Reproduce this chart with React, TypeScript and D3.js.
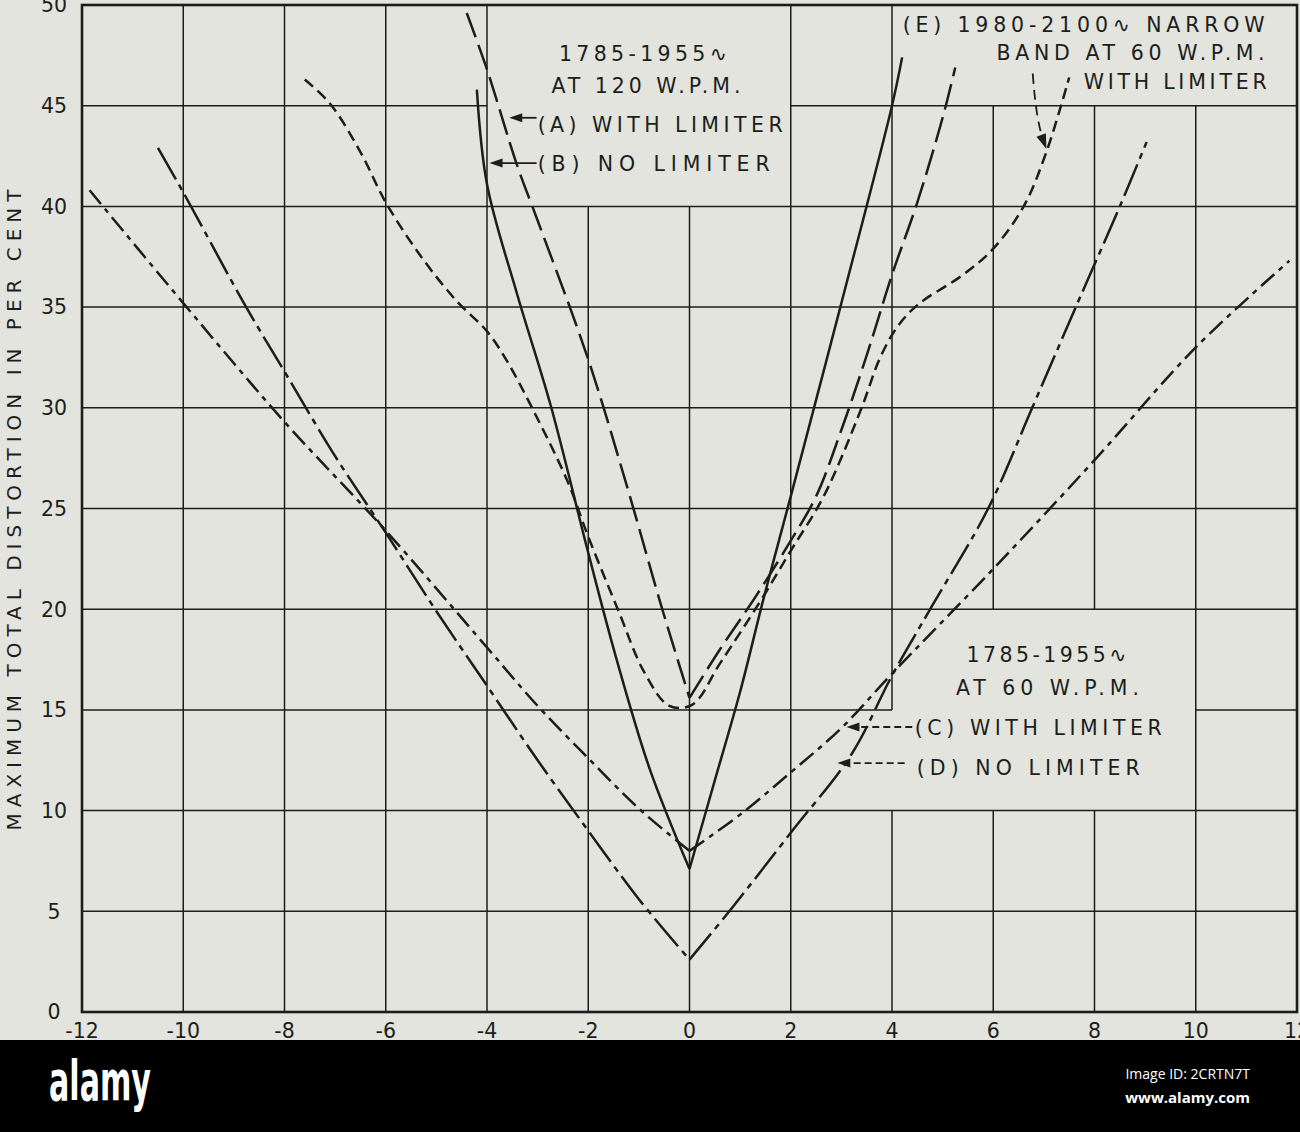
import React from 'react';
import * as d3 from 'd3';

type P = [number, number];

// ---------- data ----------
const xTicks = [-12, -10, -8, -6, -4, -2, 0, 2, 4, 6, 8, 10, 12];
const yTicks = [0, 5, 10, 15, 20, 25, 30, 35, 40, 45, 50];
const yTitle = 'MAXIMUM TOTAL DISTORTION IN PER CENT';

// (A) 1785-1955~ at 120 w.p.m., with limiter
const curveA_left: P[] = [[-4.4, 49.6], [-4, 46.8], [-3.4, 42], [-3, 39.3], [-2, 32.4], [-1.2, 25.8], [-0.55, 20.1], [0, 15.6]];
const curveA_right: P[] = [[0, 15.6], [0.6, 18], [1.3, 20.6], [2, 23.4], [2.5, 25.6], [3, 28.9], [3.5, 32.6], [4, 36.6], [4.5, 40.2], [5, 44.4], [5.25, 46.9]];
// (B) 1785-1955~ at 120 w.p.m., no limiter
const curveB_left: P[] = [[-4.2, 45.8], [-4, 41.1], [-3.4, 35.6], [-2.74, 30.1], [-2, 22.8], [-1.45, 17.6], [-0.79, 12.1], [0, 7.1]];
const curveB_right: P[] = [[0, 7.1], [0.5, 11.5], [1, 15.9], [1.45, 20.4], [2, 25.6], [3, 35.2], [4, 45], [4.2, 47.4]];
// (C) 1785-1955~ at 60 w.p.m., with limiter
const curveC_left: P[] = [[-11.85, 40.8], [-10, 35.2], [-8, 29.3], [-6, 23.9], [-4, 18.1], [-3, 15.2], [-2, 12.6], [-1, 10.1], [0, 8]];
const curveC_right: P[] = [[0, 8], [1, 9.8], [2, 11.9], [3, 14.1], [4, 16.8], [6, 22], [8, 27.4], [10, 33], [11.85, 37.3]];
// (D) 1785-1955~ at 60 w.p.m., no limiter
const curveD_left: P[] = [[-10.5, 42.9], [-10, 40.7], [-8.78, 35.1], [-8, 31.8], [-7, 27.6], [-6, 23.8], [-5, 19.9], [-4, 16.2], [-3, 12.5], [-2, 9], [-1, 5.6], [0, 2.6]];
const curveD_right: P[] = [[0, 2.6], [0.85, 5.2], [2, 8.9], [3.2, 12.8], [4, 16.7], [4.8, 20.2], [5.9, 25], [6.77, 30], [7.63, 35], [8.5, 40], [9.03, 43.2]];
// (E) 1980-2100~ narrow band at 60 w.p.m., with limiter
const curveE: P[] = [[-7.6, 46.3], [-7.1, 45.1], [-6.5, 42.7], [-6, 40.2], [-5.3, 37.5], [-4.6, 35.3], [-4, 33.8], [-3.6, 32.3], [-3.05, 29.7], [-2.4, 26.3], [-2, 23.6], [-1.4, 19.9], [-0.9, 16.9], [-0.4, 15.2], [0.05, 15.25], [0.6, 17.3], [1.4, 20.4], [2, 22.9], [2.65, 25.6], [3.4, 30], [3.75, 32.4], [4.1, 34], [4.5, 35.1], [5.4, 36.6], [6, 37.9], [6.6, 40], [7.05, 42.7], [7.5, 46.4]];

// label boxes where the grid is left blank (data units)
const gridBoxes = [
  { x0: -4, x1: 2, y0: 40, y1: 50 },
  { x0: 4, x1: 12, y0: 45, y1: 50 },
  { x0: 4, x1: 10, y0: 10, y1: 20 },
];

const INK = '#1d1d1b';
const BG = '#e2e4dd';
const FONT = "'DejaVu Sans', 'Noto Sans', sans-serif";

function arrowHead(tx: number, ty: number, fx: number, fy: number, len = 13, half = 4.5) {
  const a = Math.atan2(ty - fy, tx - fx);
  const bx = tx - len * Math.cos(a);
  const by = ty - len * Math.sin(a);
  const nx = -Math.sin(a) * half;
  const ny = Math.cos(a) * half;
  return `${tx},${ty} ${bx + nx},${by + ny} ${bx - nx},${by - ny}`;
}

export default function App() {
  const W = 1300;
  const H = 1132;
  const x = d3.scaleLinear().domain([-12, 12]).range([82, 1297]);
  const y = d3.scaleLinear().domain([0, 50]).range([1012, 5]);
  const line = d3
    .line<P>()
    .x((d) => x(d[0]))
    .y((d) => y(d[1]))
    .curve(d3.curveCatmullRom.alpha(0.5));

  // grid segments with gaps inside label boxes
  const segs: { x1: number; y1: number; x2: number; y2: number }[] = [];
  const cut = (lo: number, hi: number, gaps: [number, number][]) => {
    const sorted = gaps.sort((a, b) => a[0] - b[0]);
    const out: [number, number][] = [];
    let cur = lo;
    for (const [g0, g1] of sorted) {
      if (g0 > cur) out.push([cur, g0]);
      cur = Math.max(cur, g1);
    }
    if (cur < hi) out.push([cur, hi]);
    return out;
  };
  xTicks.slice(1, -1).forEach((xv) => {
    const gaps: [number, number][] = gridBoxes
      .filter((b) => b.x0 < xv && xv < b.x1)
      .map((b) => [b.y0, b.y1] as [number, number]);
    if (xv === 4) gaps.push([10, 15]);
    cut(0, 50, gaps).forEach(([a, b]) => segs.push({ x1: x(xv), y1: y(a), x2: x(xv), y2: y(b) }));
  });
  yTicks.slice(1, -1).forEach((yv) => {
    const gaps: [number, number][] = gridBoxes
      .filter((b) => b.y0 < yv && yv < b.y1)
      .map((b) => [b.x0, b.x1] as [number, number]);
    cut(-12, 12, gaps).forEach(([a, b]) => segs.push({ x1: x(a), y1: y(yv), x2: x(b), y2: y(yv) }));
  });

  const curves = [
    { d: curveA_left, dash: '26,8' },
    { d: curveA_right, dash: '26,8' },
    { d: curveB_left, dash: undefined },
    { d: curveB_right, dash: undefined },
    { d: curveC_left, dash: '18,6,5,6' },
    { d: curveC_right, dash: '18,6,5,6' },
    { d: curveD_left, dash: '36,6,6,6' },
    { d: curveD_right, dash: '34,6,6,6' },
    { d: curveE, dash: '11,6' },
  ];

  const txt = (s: string, xp: number, yp: number, len: number, anchor: 'start' | 'middle' | 'end' = 'start') => (
    <text
      key={s + xp + yp}
      x={xp}
      y={yp}
      textAnchor={anchor}
      textLength={len}
      lengthAdjust="spacing"
      fontFamily={FONT}
      fontSize={20.5}
      fill={INK}
    >
      {s}
    </text>
  );

  // annotation anchors (data units)
  const aTip: P = [-3.56, 44.4];
  const aTail: P = [-3.02, 44.4];
  const bTip: P = [-3.95, 42.15];
  const bTail: P = [-3.02, 42.15];
  const cTip: P = [3.1, 14.15];
  const cTail: P = [4.4, 14.15];
  const dTip: P = [2.92, 12.36];
  const dTail: P = [4.25, 12.36];
  const eStart: P = [6.78, 46.6];
  const eCtrl: P = [6.85, 44.2];
  const eTip: P = [7.05, 42.85];

  return (
    <svg
      width={W}
      height={H}
      style={{ position: 'absolute', left: 0, top: 0, display: 'block' }}
    >
      <rect x={0} y={0} width={W} height={H} fill={BG} />

      {/* grid */}
      <g stroke={INK} strokeWidth={1.5}>
        {segs.map((s, i) => (
          <line key={i} {...s} />
        ))}
      </g>
      {/* frame */}
      <rect x={x(-12)} y={y(50)} width={x(12) - x(-12)} height={y(0) - y(50)} fill="none" stroke={INK} strokeWidth={2.6} />

      {/* curves */}
      <g fill="none" stroke={INK} strokeWidth={2.5} strokeLinecap="butt">
        {curves.map((c, i) => (
          <path key={i} d={line(c.d) || ''} strokeDasharray={c.dash} />
        ))}
      </g>

      {/* arrows & leaders */}
      <g stroke={INK} strokeWidth={1.8} fill="none">
        <line x1={x(aTail[0])} y1={y(aTail[1])} x2={x(aTip[0]) + 8} y2={y(aTip[1])} />
        <line x1={x(bTail[0])} y1={y(bTail[1])} x2={x(bTip[0]) + 8} y2={y(bTip[1])} />
        <line x1={x(cTail[0])} y1={y(cTail[1])} x2={x(cTip[0]) + 8} y2={y(cTip[1])} strokeDasharray="7,4" />
        <line x1={x(dTail[0])} y1={y(dTail[1])} x2={x(dTip[0]) + 8} y2={y(dTip[1])} strokeDasharray="7,4" />
        <path
          d={`M${x(eStart[0])},${y(eStart[1])} Q${x(eCtrl[0])},${y(eCtrl[1])} ${x(eTip[0]) - 3},${y(eTip[1]) - 9}`}
          strokeDasharray="10,6"
        />
      </g>
      <g fill={INK}>
        <polygon points={arrowHead(x(aTip[0]), y(aTip[1]), x(aTail[0]), y(aTail[1]))} />
        <polygon points={arrowHead(x(bTip[0]), y(bTip[1]), x(bTail[0]), y(bTail[1]))} />
        <polygon points={arrowHead(x(cTip[0]), y(cTip[1]), x(cTail[0]), y(cTail[1]))} />
        <polygon points={arrowHead(x(dTip[0]), y(dTip[1]), x(dTail[0]), y(dTail[1]))} />
        <polygon points={arrowHead(x(eTip[0]), y(eTip[1]), x(eCtrl[0]), y(eCtrl[1]), 15, 5)} />
      </g>

      {/* annotations */}
      {txt('1785-1955∿', x(-0.92), y(47.2), 168, 'middle')}
      {txt('AT 120 W.P.M.', x(-0.86), y(45.65), 189, 'middle')}
      {txt('(A) WITH LIMITER', x(-3.0), y(43.7), 245)}
      {txt('(B) NO LIMITER', x(-3.0), y(41.75), 232)}
      {txt('(E) 1980-2100∿ NARROW', x(4.21), y(48.66), 362)}
      {txt('BAND AT 60 W.P.M.', x(11.36), y(47.27), 268, 'end')}
      {txt('WITH LIMITER', x(11.4), y(45.83), 183, 'end')}
      {txt('1785-1955∿', x(7.05), y(17.38), 160, 'middle')}
      {txt('AT 60 W.P.M.', x(7.07), y(15.74), 183, 'middle')}
      {txt('(C) WITH LIMITER', x(4.45), y(13.75), 247)}
      {txt('(D) NO LIMITER', x(4.49), y(11.77), 223)}

      {/* tick labels */}
      <g fontFamily={FONT} fontSize={20.5} fill={INK}>
        {xTicks.map((t) => (
          <text key={'x' + t} x={x(t)} y={1038} textAnchor="middle">
            {t < 0 ? '-' + Math.abs(t) : String(t)}
          </text>
        ))}
        {yTicks.map((t) => (
          <text key={'y' + t} x={54} y={y(t)} dy="0.36em" textAnchor="middle">
            {t}
          </text>
        ))}
      </g>
      <text
        transform={`translate(14, 510) rotate(-90)`}
        textAnchor="middle"
        dy="0.36em"
        fontFamily={FONT}
        fontSize={20}
        fill={INK}
        textLength={641}
        lengthAdjust="spacing"
      >
        {yTitle}
      </text>

      {/* stock-photo footer band */}
      <rect x={0} y={1040} width={W} height={H - 1040} fill="#000" />
      <text
        x={49}
        y={1100}
        fontFamily="'Liberation Sans Narrow', 'DejaVu Sans Condensed', 'DejaVu Sans', sans-serif"
        fontWeight="bold"
        fontSize={56}
        fill="#fff"
        textLength={102}
        lengthAdjust="spacingAndGlyphs"
      >
        alamy
      </text>
      <text x={1250} y={1079} textAnchor="end" fontFamily="'Open Sans', 'Noto Sans', sans-serif" fontSize={14} fill="#fff">
        Image ID: 2CRTN7T
      </text>
      <text x={1250} y={1103} textAnchor="end" fontFamily="'Open Sans', 'Noto Sans', sans-serif" fontWeight="bold" fontSize={15} fill="#fff">
        www.alamy.com
      </text>
    </svg>
  );
}
